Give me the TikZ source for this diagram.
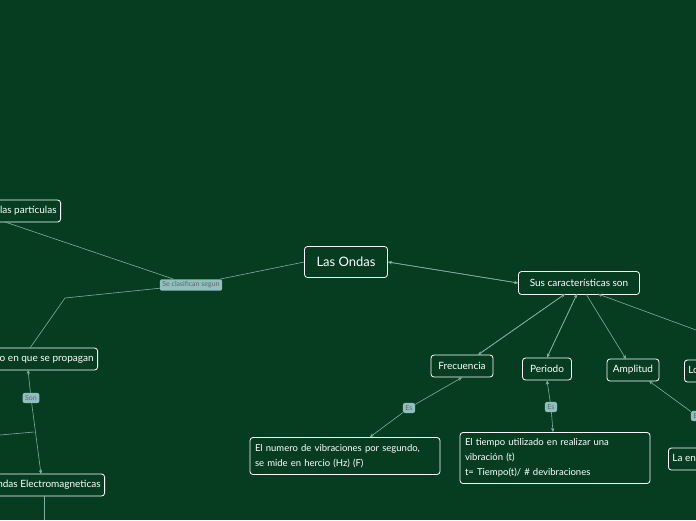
\documentclass[tikz,border=0pt]{standalone}
\usepackage{fontspec}
\setmainfont{Lato}
\usetikzlibrary{arrows.meta}
\definecolor{bg}{HTML}{063D20}
\definecolor{ln}{HTML}{7FAFA0}
\definecolor{lb}{HTML}{8FBFBF}
\begin{document}
\begin{tikzpicture}[x=1pt,y=-1pt,
 box/.style={draw=white,thick,rounded corners=3pt,text=white,font=\fontsize{10}{13}\selectfont,inner sep=4pt,align=left},
 lab/.style={fill=lb,rounded corners=2pt,text=black!60,font=\fontsize{7}{8}\selectfont,inner sep=2.5pt},
 con/.style={draw=ln,line width=0.6pt},
 ar/.style={con,-{Stealth[length=4pt,width=3.5pt]}}]
\fill[bg] (0,0) rectangle (696,520);
\useasboundingbox (0,0) rectangle (696,520);
\clip (0,0) rectangle (696,520);
\node[box,font=\fontsize{13}{14}\selectfont,minimum width=83pt,minimum height=31pt,align=center] (ondas) at (346,262) {Las Ondas};
\node[box,minimum width=121pt,minimum height=23pt,align=center,inner sep=2pt] (sus) at (579,283) {Sus características son};
\node[box,minimum width=62pt,minimum height=22pt,align=center,inner sep=2pt] (frec) at (462,366) {Frecuencia};
\node[box,minimum width=49pt,minimum height=22pt,align=center,inner sep=2pt] (per) at (547,369) {Periodo};
\node[box,minimum width=52pt,minimum height=22pt,align=center,inner sep=2pt] (amp) at (633,370) {Amplitud};
\node[box,minimum height=22pt,anchor=west] (lon) at (684,371) {Longitud de onda};
\node[box,minimum width=190pt,minimum height=37pt,text width=180pt,font=\fontsize{9.5}{15}\selectfont] (num) at (345,456) {El numero de vibraciones por segundo,\\ se mide en hercio (Hz) (F)};
\node[box,minimum width=190pt,minimum height=51pt,text width=180pt,font=\fontsize{9.5}{15}\selectfont] (tie) at (555,458) {El tiempo utilizado en realizar una\\ vibración (t)\\ t= Tiempo(t)/ \# devibraciones};
\node[box,minimum height=22pt,anchor=west] (ene) at (668,459) {La energía de la onda};
\node[box,minimum height=22pt,anchor=east] (part) at (61,211) {Según el movimiento de las partículas};
\node[box,minimum height=22pt,anchor=east] (medio) at (98,359) {Según el medio en que se propagan};
\node[box,minimum height=22pt,anchor=east] (elec) at (105,485) {Ondas Electromagneticas};
\node[lab] (cls) at (191,285) {Se clasifican segun};
\node[lab] (son) at (31,398) {Son};
\node[lab] (es1) at (409,408) {Es};
\node[lab] (es2) at (551,407) {Es};
\node[lab] (es3) at (697,416) {Es};
\coordinate (bend) at (65,298);
\coordinate (mec) at (0,435);
\coordinate (mecj) at (34,432);
\coordinate (down) at (44,520);
\coordinate (right) at (696,330);
\coordinate (s1) at (565,294);
\coordinate (s2) at (577,294);
\coordinate (s3) at (586,294);
\coordinate (s4) at (598,294);
\draw[con] (ondas.west) -- (cls);
\draw[con] (cls) -- (5,222);
\draw[con] (cls) -- (bend) -- (30,348);
\draw[ar] (son) -- (28,370);
\draw[ar] (son) -- (41,474);
\draw[con] (mec) -- (mecj);
\draw[con] (44,496) -- (down);
\draw[ar] (sus.west) -- (ondas.east);
\draw[ar] (ondas.east) -- (sus.west);
\draw[ar] (s1) -- (478,355);
\draw[ar] (s2) -- (per.north);
\draw[ar] (s3) -- (626,359);
\draw[ar] (right) -- (s4);
\draw[ar] (frec.north) ++(16,0) -- (s1);
\draw[ar] (per.north) -- (s2);
\draw[ar] (es1) -- (frec.south);
\draw[ar] (es1) -- (370,437);
\draw[ar] (es2) -- (per.south);
\draw[ar] (es2) -- (553,432);
\draw[ar] (es3) -- (649,381);
\end{tikzpicture}
\end{document}
